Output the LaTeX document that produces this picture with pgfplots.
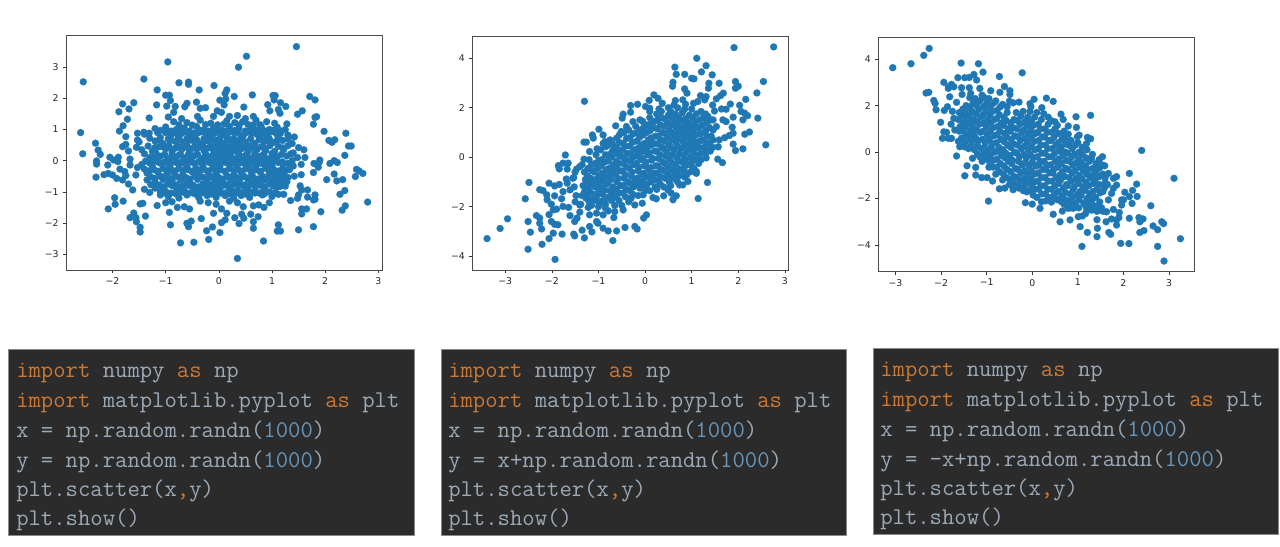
\documentclass[border=0pt]{standalone}
\usepackage{fontspec}
\setmainfont{DejaVu Sans}
\usepackage{pgfplots}
\pgfplotsset{compat=1.18}
\definecolor{mplblue}{HTML}{1F77B4}
\definecolor{codebg}{HTML}{2B2B2B}
\definecolor{codeedge}{HTML}{8A8A8A}
\definecolor{codetxt}{HTML}{9CA9B7}
\definecolor{codekw}{HTML}{CC7832}
\definecolor{codenum}{HTML}{6897BB}
\newcommand{\kw}[1]{\textcolor{codekw}{#1}}
\newcommand{\nm}[1]{\textcolor{codenum}{#1}}
\newcommand{\codefont}{\fontsize{18}{20}\selectfont\ttfamily\color{codetxt}}
\newcommand{\codeline}[3]{\node[anchor=base west,inner sep=0pt] at (#1pt,#2pt) {\codefont #3};}
\pgfplotsset{
  scat/.style={
    scale only axis, width=237.2pt,
    axis line style={draw=black!70,line width=0.55pt},
    tick style={draw=black!80,line width=0.45pt},
    tick align=outside, major tick length=2.4pt,
    xtick pos=bottom, ytick pos=left,
    tick label style={font=\fontsize{7}{8}\selectfont,text=black!85},
    xticklabel style={yshift=0.4pt}, yticklabel style={xshift=0.4pt},
    clip=false
  },
  dots/.style={only marks, mark=*, mark size=2.65pt, mark options={draw=mplblue,fill=mplblue,line width=0.1pt}}
}
\begin{document}
\begin{tikzpicture}
\path[use as bounding box] (0pt,0pt) rectangle (960pt,409.5pt);
% ---------- chart 1
\begin{axis}[scat, at={(49.5pt,207pt)}, anchor=south west, height=175.7pt,
  xmin=-2.875, xmax=3.075, ymin=-3.51, ymax=4.01,
  xtick={-2,-1,0,1,2,3}, xticklabels={−2,−1,0,1,2,3},
  ytick={-3,-2,-1,0,1,2,3}, yticklabels={−3,−2,−1,0,1,2,3}]
\addplot[dots] coordinates {
(1.46,3.66)(.52,3.35)(.37,3.0)(-.96,3.17)(-2.55,2.53)(-1.41,2.62)(-.75,2.5)(-.57,2.52)(-.57,2.45)(-.09,2.41)(-1.16,2.27)(-.37,2.27)(.15,2.27)(.12,2.16)(.29,2.06)(.63,2.11)(1.02,2.09)(1.06,2.09)(1.04,1.95)(1.71,2.06)(1.81,1.95)(-1.0,2.1)(-.93,2.1)(-.91,1.93)(.02,1.94)(.13,1.98)(-1.81,1.82)(-1.6,1.86)(-1.69,1.66)(-1.88,1.57)(-1.17,1.79)(-.98,1.75)(-.82,1.74)(-.42,1.88)(-.6,1.84)(-.64,1.73)(-.35,1.68)(-.25,1.7)(.1,1.79)(.47,1.72)(.92,1.8)(1.16,1.86)(1.26,1.74)(.96,1.6)(1.12,1.64)(1.15,1.52)(1.57,1.6)(1.48,1.49)(1.81,1.39)(1.84,1.41)(1.78,1.17)(1.98,.94)(2.39,.88)(2.07,.65)(2.13,.59)(2.18,.67)(2.44,.47)(2.49,.47)(2.37,.17)(1.9,.02)(1.89,-.05)(2.09,-.09)(2.17,0)(2.23,-.06)(1.87,-.21)(1.79,-.09)(1.78,-.38)(2.03,-.61)(2.17,-.43)(2.22,-.65)(2.33,-.61)(2.59,-.28)(2.57,-.51)(2.64,-.33)(2.71,-.41)(2.8,-1.33)(2.37,-.96)(2.28,-1.08)(2.38,-1.45)(2.32,-1.59)(1.92,-1.64)(1.81,-1.1)(1.81,-1.24)(1.78,-1.26)(1.78,-2.12)(1.5,-2.22)(1.56,-1.71)(1.56,-1.55)(1.65,-1.55)(1.48,-1.21)(1.5,-1.1)(1.53,-.81)(1.56,-.94)(1.67,-.94)(1.67,-1.17)(1.12,-2.06)(1.1,-2.26)(1.16,-2.26)(.84,-2.58)(.65,-2.17)(.65,-1.96)(.74,-1.8)(.6,-1.72)(.46,-1.48)(.43,-1.72)(.47,-1.85)(.38,-2.02)(.3,-1.83)(.35,-3.14)(.02,-2.31)(-.19,-2.53)(-.23,-2.25)(-.12,-2.13)(-.47,-2.62)(-.72,-2.64)(-.57,-2.12)(-.6,-2.01)(-.52,-1.94)(-.91,-2.06)(-.93,-1.66)(-.33,-1.86)(-.1,-1.69)(.05,-1.99)(.12,-1.9)(.15,-1.69)(-1.48,-2.29)(-1.48,-2.14)(-1.55,-1.96)(-1.56,-1.83)(-1.67,-1.83)(-1.6,-1.68)(-1.38,-1.78)(-2.08,-1.55)(-1.95,-1.4)(-1.96,-1.19)(-1.8,-1.3)(-1.48,-1.39)(-1.43,-1.37)(-1.16,-1.44)(-2.31,-.53)(-2.16,-.45)(-2.08,-.41)(-2.0,-.46)(-1.92,-.57)(-1.81,-.62)(-1.7,-.75)(-1.62,-.94)(-2.6,.9)(-2.56,.22)(-2.32,.56)(-2.27,.34)(-2.23,.2)(-2.3,-.01)(-2.3,-.11)(-2.09,-.14)(-2.05,.11)(-1.98,.02)(-1.89,.11)(-1.9,-.03)(-1.86,-.27)(-1.87,.95)(-1.8,1.12)(-1.72,1.33)(-1.75,.77)(-1.81,.45)(-1.75,.52)(-1.7,.31)(-1.67,.05)(-1.67,-.14)(-1.77,-.35)(-1.75,-.48)(-1.56,-.46)(-1.53,-.22)(-1.55,.43)(-1.53,.66)(-1.53,.88)(-1.31,1.37)(-1.41,.91)(-1.31,.88)
(-.85,1.55)(-.95,1.4)(-.7,1.35)(-.4,1.42)(-.1,1.42)(-.03,1.6)(.05,1.55)(.2,1.42)(.35,1.45)(.5,1.35)(.65,1.42)(.7,1.3)
(-.85,1.25)(-.6,1.22)(-.35,1.3)(-.15,1.2)(.15,1.28)(.3,1.22)(.45,1.25)(.65,1.15)(.9,1.25)(1.05,1.2)(1.28,1.18)
(-1.2,1.03)(-1.0,1.08)(-.8,1.0)(-.65,1.05)(-.42,1.1)(-.28,1.0)(-.1,1.05)(.05,.98)(.2,1.1)(.38,1.04)(.6,1.02)(.8,1.08)(.95,1.0)(1.1,1.07)(1.25,1.0)
(-1.4,.85)(-1.15,.9)(-.9,.8)(-.7,.87)(-.55,.82)(-.38,.9)(-.22,.78)(-.08,.88)(.12,.82)(.28,.9)(.46,.8)(.62,.88)(.72,.84)(.9,.8)(1.08,.87)(1.3,.82)(1.42,.76)
(-1.5,.6)(-1.2,.63)(-1.05,.55)(-.82,.62)(-.66,.58)(-.5,.65)(-.35,.55)(-.2,.63)(-.05,.6)(.08,.55)(.22,.65)(.35,.58)(.5,.6)(.68,.55)(.85,.62)(1.02,.58)(1.2,.65)(1.38,.55)(1.5,.42)
(-1.45,.35)(-1.25,.3)(-1.0,.38)(-.88,.32)(-.7,.36)(-.55,.3)(-.42,.38)(-.28,.33)(-.12,.38)(0,.3)(.15,.35)(.28,.32)(.42,.38)(.55,.3)(.72,.36)(.88,.32)(1.05,.3)(1.22,.36)(1.4,.25)(1.6,.35)
(-1.3,.1)(-1.1,.14)(-.95,.06)(-.8,.12)(-.65,.08)(-.48,.14)(-.32,.06)(-.18,.12)(-.02,.08)(.12,.14)(.3,.06)(.45,.12)(.6,.08)(.76,.13)(.92,.06)(1.1,.12)(1.28,.15)(1.48,.1)(1.62,.1)
(-1.45,-.12)(-1.25,-.18)(-1.08,-.1)(-.92,-.16)(-.75,-.12)(-.6,-.18)(-.45,-.1)(-.3,-.17)(-.12,-.12)(.02,-.18)(.18,-.1)(.35,-.16)(.5,-.12)(.7,-.18)(.82,-.1)(1.0,-.16)(1.2,-.1)(1.4,-.17)(1.55,-.12)
(-1.35,-.4)(-1.15,-.36)(-.98,-.42)(-.85,-.38)(-.68,-.44)(-.5,-.36)(-.38,-.42)(-.2,-.38)(-.05,-.42)(.12,-.36)(.28,-.44)(.42,-.38)(.62,-.42)(.78,-.36)(.95,-.42)(1.08,-.38)(1.22,-.42)(1.42,-.5)(1.55,-.45)
(-1.35,-.62)(-1.2,-.68)(-1.05,-.6)(-.88,-.66)(-.72,-.62)(-.55,-.68)(-.4,-.6)(-.22,-.66)(-.08,-.62)(.08,-.68)(.22,-.62)(.38,-.66)(.55,-.6)(.7,-.68)(.85,-.62)(1.0,-.66)(1.13,-.62)(1.28,-.68)
(-1.4,-.92)(-1.2,-.88)(-1.0,-.98)(-.8,-.9)(-.65,-.95)(-.48,-.88)(-.3,-.94)(-.15,-.88)(.02,-.95)(.2,-.9)(.35,-.96)(.5,-.9)(.68,-.95)(.85,-.9)(1.1,-.85)(1.25,-.82)
(-1.1,-1.1)(-.95,-1.15)(-.75,-1.2)(-.6,-1.1)(-.38,-1.18)(-.22,-1.12)(-.05,-1.18)(.12,-1.12)(.28,-1.2)(.42,-1.12)(.58,-1.18)(.82,-1.1)(1.0,-1.15)(1.12,-1.08)(1.22,-1.08)
(-1.0,-1.35)(-.88,-1.32)(-.78,-1.5)(-.65,-1.48)(-.55,-1.55)(-.35,-1.3)(-.2,-1.35)(-.05,-1.4)(.05,-1.55)(.2,-1.3)(.35,-1.35)(.65,-1.45)(.75,-1.42)(.85,-1.5)(.95,-1.35)(1.35,-1.28)
(-1.1,.97)(-.9,.95)(-.72,.98)(-.55,.95)(-.35,.97)(-.2,.95)(-.02,.98)(.13,.95)(.3,.97)(.5,.95)(.7,.98)(.88,.95)(1.02,.97)(1.18,.95)
(-1.3,.72)(-1.1,.74)(-.95,.7)(-.76,.73)(-.6,.7)(-.45,.74)(-.28,.7)(-.12,.73)(.02,.72)(.16,.74)(.28,.7)(.42,.73)(.6,.7)(.78,.74)(.95,.7)(1.12,.73)(1.3,.7)
(-1.33,.47)(-1.12,.45)(-.94,.48)(-.76,.46)(-.6,.49)(-.45,.46)(-.3,.48)(-.14,.45)(-.02,.48)(.12,.45)(.28,.48)(.42,.46)(.6,.48)(.8,.45)(.96,.48)(1.12,.46)(1.3,.48)
(-1.4,.22)(-1.18,.24)(-1.02,.2)(-.88,.23)(-.72,.2)(-.56,.24)(-.4,.2)(-.25,.23)(-.1,.21)(.05,.24)(.22,.2)(.37,.23)(.52,.2)(.68,.24)(.84,.2)(1.0,.23)(1.18,.2)(1.36,.22)
(-1.38,-.02)(-1.2,0)(-1.02,-.04)(-.86,-.01)(-.7,-.04)(-.54,0)(-.38,-.03)(-.25,-.01)(-.1,-.04)(.05,0)(.2,-.03)(.38,-.01)(.52,-.04)(.68,0)(.85,-.03)(1.02,-.01)(1.2,-.04)(1.38,0)
(-1.4,-.27)(-1.22,-.29)(-1.05,-.25)(-.9,-.28)(-.75,-.25)(-.58,-.29)(-.43,-.25)(-.28,-.28)(-.12,-.26)(.03,-.29)(.2,-.25)(.35,-.28)(.52,-.26)(.7,-.29)(.88,-.25)(1.03,-.28)(1.2,-.26)(1.33,-.29)
(-1.28,-.52)(-1.1,-.5)(-.95,-.54)(-.8,-.51)(-.62,-.54)(-.45,-.5)(-.3,-.53)(-.15,-.51)(0,-.54)(.16,-.5)(.32,-.53)(.48,-.51)(.65,-.54)(.82,-.5)(1.0,-.53)(1.15,-.51)(1.3,-.54)
(-1.28,-.77)(-1.12,-.79)(-.96,-.75)(-.8,-.78)(-.62,-.75)(-.48,-.79)(-.3,-.75)(-.15,-.78)(0,-.76)(.16,-.79)(.3,-.75)(.48,-.78)(.62,-.76)(.78,-.79)(.95,-.75)(1.08,-.78)(1.22,-.76)
(-1.3,-1.02)(-1.1,-1.0)(-.9,-1.04)(-.72,-1.01)(-.55,-1.04)(-.38,-1.0)(-.22,-1.03)(-.05,-1.01)(.12,-1.04)(.28,-1.0)(.42,-1.03)(.6,-1.01)(.76,-1.04)(.95,-1.0)(1.05,-1.03)
(-.75,1.15)(-.5,1.14)(-.25,1.16)(-.02,1.15)(.1,1.18)(.38,1.14)(.55,1.16)(.78,1.15)
(-1.0,.9)(-.8,.88)(-.62,.92)(-.46,.89)(-.3,.92)(-.14,.88)(.02,.9)(.2,.92)(.37,.88)(.54,.91)(.8,.89)(.98,.92)(1.16,.88)
(-1.12,.66)(-.92,.64)(-.74,.68)(-.58,.65)(-.42,.68)(-.27,.64)(-.12,.66)(0,.68)(.15,.64)(.3,.67)(.44,.65)(.76,.68)(.92,.64)(1.1,.66)
(-1.2,.42)(-1.05,.44)(-.82,.4)(-.64,.43)(-.5,.4)(-.36,.44)(-.2,.41)(-.07,.43)(.08,.4)(.2,.44)(.34,.41)(.5,.43)(.66,.4)(.84,.43)(1.2,.41)
(-1.2,.17)(-.88,.15)(-.74,.19)(-.58,.16)(-.42,.19)(-.26,.15)(-.1,.17)(.05,.19)(.2,.15)(.38,.18)(.52,.16)(.68,.19)(.84,.15)(1.02,.17)
(-1.3,-.07)(-1.14,-.05)(-.95,-.09)(-.8,-.06)(-.64,-.09)(-.5,-.05)(-.32,-.08)(-.18,-.06)(-.04,-.09)(.11,-.05)(.27,-.08)(.44,-.06)(.6,-.09)(.76,-.05)(.92,-.08)(1.12,-.06)(1.3,-.09)
(-1.3,-.32)(-1.14,-.34)(-.98,-.3)(-.82,-.33)(-.66,-.3)(-.5,-.34)(-.35,-.31)(-.2,-.33)(-.05,-.3)(.12,-.34)(.28,-.31)(.44,-.33)(.6,-.3)(.78,-.34)(.95,-.31)(1.12,-.33)(1.28,-.3)
(-1.2,-.57)(-1.02,-.55)(-.88,-.59)(-.7,-.56)(-.54,-.59)(-.38,-.55)(-.22,-.58)(-.08,-.56)(.08,-.59)(.24,-.55)(.4,-.58)(.56,-.56)(.74,-.59)(.9,-.55)(1.08,-.58)(1.22,-.56)
(-1.2,-.82)(-1.04,-.84)(-.88,-.8)(-.7,-.83)(-.55,-.8)(-.38,-.84)(-.22,-.81)(-.08,-.83)(.08,-.8)(.22,-.84)(.38,-.81)(.55,-.83)(.7,-.8)(.86,-.84)(1.02,-.81)(1.15,-.83)
(-1.0,-1.05)(-.8,-1.07)(-.64,-1.03)(-.46,-1.06)(-.3,-1.03)(-.14,-1.07)(.04,-1.04)(.2,-1.06)(.34,-1.03)(.5,-1.07)(.68,-1.04)(.86,-1.06)
};
\end{axis}
% ---------- chart 2
\begin{axis}[scat, at={(354.2pt,206.8pt)}, anchor=south west, height=175.5pt,
  xmin=-3.707, xmax=3.079, ymin=-4.57, ymax=4.89,
  xtick={-3,-2,-1,0,1,2,3}, xticklabels={−3,−2,−1,0,1,2,3},
  ytick={-4,-2,0,2,4}, yticklabels={−4,−2,0,2,4}]
\addplot[dots] coordinates {
(2.76,4.46)(1.91,4.43)(1.11,4.0)(.64,3.64)(1.31,3.7)(.67,3.35)(.85,3.35)(1.21,3.45)(1.44,3.33)(1.0,3.19)(1.05,3.17)(1.59,2.99)(1.94,3.06)(2.54,3.06)(1.37,2.99)(.6,3.03)(.59,2.87)(2.0,2.87)(1.94,2.79)(1.36,2.79)(.85,2.76)(.9,2.59)(2.4,2.6)(1.68,2.59)(1.62,2.49)(1.53,2.36)(2.16,2.34)(1.19,2.49)(1.31,2.45)(1.28,2.32)(-1.3,2.26)(.19,2.52)(.09,2.3)(.28,2.38)(.37,2.18)(.65,2.29)(.62,2.11)(.81,2.32)(.87,2.14)(1.04,2.18)(1.13,2.25)(1.45,2.11)(-.31,2.09)(-.16,2.14)(.01,2.05)(.1,1.85)(.1,1.98)(2.03,2.1)(1.83,2.15)(1.64,1.95)(1.49,1.87)(1.74,1.94)(2.06,1.85)(2.14,1.78)(2.2,1.68)(2.42,1.58)(2.1,1.51)(1.89,1.62)(1.67,1.51)(1.74,1.44)(1.87,1.21)(1.46,1.51)(1.53,1.24)(1.46,1.1)(2.24,1.02)(2.14,.93)(1.89,.97)(1.81,.88)(1.71,.79)(1.59,.7)(1.46,.7)(1.89,.53)(2.59,.5)(2.1,.34)(1.94,.27)(1.57,.42)(1.31,-.03)(1.56,-.08)(1.66,-.22)(1.34,-1.02)(1.14,-1.67)
(-.47,1.74)(-.49,1.58)(-.31,1.82)(-.63,1.27)(-.99,1.13)(-1.13,.9)(-1.11,.77)(-.9,.9)(-1.31,.61)(-1.26,.61)(-.86,.63)(-1.71,.09)(-1.19,.23)(-1.03,.34)(-.84,.43)(-.61,.77)(-.51,1.04)(-.4,1.24)(-.26,1.44)(-.11,1.51)(-1.86,-.34)(-1.84,-.47)(-1.76,-.24)(-1.65,-.24)(-1.67,-.48)(-1.47,-.48)(-1.31,-.08)(-1.4,-.38)
(-2.49,-1.02)(-2.06,-1.05)(-1.94,-1.16)(-1.84,-1.1)(-1.69,-.88)(-1.67,-1.05)(-1.53,-.82)(-2.26,-1.31)(-2.19,-1.35)(-2.11,-1.52)(-1.94,-1.56)(-2.1,-1.72)(-2.01,-1.9)(-2.57,-1.68)(-1.76,-1.39)(-1.61,-1.32)(-1.79,-1.68)(-1.76,-1.99)(-1.64,-2.03)(-1.97,-2.13)(-1.9,-2.1)(-2.06,-2.32)(-1.61,-2.36)(-2.33,-2.36)(-2.26,-2.46)(-2.26,-2.67)(-2.22,-2.9)(-2.51,-2.6)(-2.95,-2.49)(-3.11,-2.88)(-3.39,-3.29)(-2.46,-3.03)(-2.51,-3.72)(-2.21,-3.52)(-2.06,-3.29)(-1.97,-3.07)(-1.78,-3.11)(-1.93,-4.13)(-1.53,-3.11)(-1.51,-3.18)(-1.35,-2.95)(-1.3,-3.26)(-2.01,-2.6)(-1.94,-2.71)(-1.87,-2.73)(-1.51,-2.6)(-1.46,-2.46)(-1.4,-2.22)(-1.19,-2.8)(-1.14,-3.02)(-1.04,-2.6)(-1.01,-2.67)(-.9,-2.87)(-.79,-2.98)(-.61,-2.98)(-.69,-3.37)(-.43,-2.84)(-.22,-2.8)(-.17,-2.9)(-.67,-2.44)(-.03,-2.46)(.03,-2.33)(-.9,-2.33)(-.79,-2.17)(-.65,-2.2)(-.47,-2.13)(-.22,-1.93)(-.06,-1.86)(-1.22,-2.03)(-1.19,-2.33)(-1.04,-2.26)(-1.4,-1.93)
(.6,-1.72)(.67,-1.56)(.4,-1.56)(.24,-1.68)(.17,-1.63)(-.04,-1.52)(.49,-1.32)(.56,-1.45)(.74,-1.12)(.81,-1.12)(.92,-.98)(1.1,-.65)(1.1,-.58)(.99,-.58)(.85,-.58)(1.06,-.11)
(-1.55,-.85)(-1.52,-1.2)(-1.48,-1.55)(-1.5,-1.8)(-1.35,-1.55)(-1.38,-1.9)
(-1.3,-.6)(-1.28,-.9)(-1.33,-1.15)(-1.3,-1.4)(-1.27,-1.65)
(-1.15,-.3)(-1.13,-.55)(-1.17,-.85)(-1.14,-1.1)(-1.18,-1.4)(-1.12,-1.7)(-1.15,-1.95)
(-1.0,-.15)(-1.02,-.45)(-.98,-.75)(-1.01,-1.0)(-.99,-1.3)(-1.03,-1.55)(-.97,-1.85)
(-.85,.1)(-.87,-.2)(-.83,-.5)(-.86,-.8)(-.84,-1.1)(-.88,-1.35)(-.82,-1.65)(-.85,-1.9)
(-.7,.25)(-.72,0)(-.68,-.3)(-.71,-.6)(-.73,-.9)(-.69,-1.2)(-.7,-1.5)(-.72,-1.75)
(-.55,.6)(-.57,.3)(-.53,.05)(-.56,-.25)(-.54,-.55)(-.58,-.85)(-.52,-1.15)(-.55,-1.45)(-.56,-1.75)
(-.4,.75)(-.42,.45)(-.38,.15)(-.41,-.1)(-.39,-.4)(-.43,-.7)(-.37,-1.0)(-.4,-1.3)(-.42,-1.6)
(-.25,.95)(-.27,.6)(-.23,.3)(-.26,0)(-.24,-.3)(-.28,-.6)(-.22,-.9)(-.25,-1.2)(-.26,-1.5)
(-.1,1.1)(-.12,.8)(-.08,.5)(-.11,.2)(-.09,-.1)(-.13,-.4)(-.07,-.7)(-.1,-1.0)(-.11,-1.25)
(.05,1.3)(.03,1.0)(.07,.7)(.04,.4)(.06,.1)(.02,-.2)(.08,-.5)(.05,-.8)(.04,-1.1)
(.2,1.45)(.18,1.2)(.22,.85)(.19,.55)(.21,.25)(.17,-.05)(.23,-.35)(.2,-.65)(.19,-.9)(.22,-1.2)
(.35,1.6)(.33,1.3)(.37,1.0)(.34,.7)(.36,.4)(.32,.1)(.38,-.2)(.35,-.5)(.34,-.8)(.33,-1.1)
(.5,1.7)(.48,1.4)(.52,1.1)(.49,.8)(.51,.5)(.47,.2)(.53,-.1)(.5,-.4)(.49,-.7)(.52,-1.0)
(.65,1.75)(.63,1.45)(.67,1.2)(.64,.9)(.66,.6)(.62,.3)(.68,0)(.65,-.3)(.64,-.6)(.66,-.9)
(.8,1.8)(.78,1.5)(.82,1.2)(.79,.95)(.81,.65)(.77,.35)(.83,.05)(.8,-.2)(.79,-.5)
(.95,1.7)(.93,1.4)(.97,1.15)(.94,.85)(.96,.6)(.92,.3)(.98,0)(.95,-.3)
(1.1,1.75)(1.08,1.45)(1.12,1.2)(1.09,.9)(1.11,.6)(1.07,.35)(1.13,.05)
(1.25,1.6)(1.23,1.3)(1.27,1.0)(1.24,.7)(1.26,.4)
(1.4,1.5)(1.38,1.2)(1.42,.85)(1.39,.6)
(-1.22,-.45)(-1.23,-.75)(-1.21,-1.0)(-1.22,-1.25)(-1.24,-1.55)(-1.2,-1.8)
(-1.07,-.25)(-1.08,-.6)(-1.06,-.9)(-1.07,-1.2)(-1.09,-1.5)(-1.05,-1.75)
(-.93,-.1)(-.94,-.35)(-.92,-.65)(-.93,-.95)(-.95,-1.22)(-.91,-1.5)(-.93,-1.78)
(-.78,.1)(-.79,-.15)(-.77,-.45)(-.78,-.75)(-.8,-1.05)(-.76,-1.35)(-.78,-1.62)
(-.62,.4)(-.63,.15)(-.61,-.15)(-.62,-.42)(-.64,-.7)(-.6,-1.0)(-.62,-1.3)(-.63,-1.6)
(-.47,.55)(-.48,.3)(-.46,0)(-.47,-.25)(-.49,-.55)(-.45,-.85)(-.47,-1.15)(-.48,-1.45)
(-.32,.8)(-.33,.45)(-.31,.15)(-.32,-.15)(-.34,-.45)(-.3,-.75)(-.32,-1.05)(-.33,-1.35)
(-.17,1.0)(-.18,.65)(-.16,.35)(-.17,.05)(-.19,-.25)(-.15,-.55)(-.17,-.85)(-.18,-1.1)
(-.03,1.2)(-.04,.9)(-.02,.55)(-.03,.25)(-.05,-.05)(-.01,-.35)(-.03,-.65)(-.04,-.95)(-.02,-1.2)
(.12,1.35)(.11,1.08)(.13,.78)(.12,.48)(.1,.18)(.14,-.12)(.12,-.42)(.11,-.75)(.13,-1.0)
(.27,1.5)(.26,1.15)(.28,.85)(.27,.55)(.25,.25)(.29,-.05)(.27,-.35)(.26,-.65)(.28,-.95)
(.42,1.55)(.41,1.25)(.43,.95)(.42,.65)(.4,.35)(.44,.05)(.42,-.25)(.41,-.55)(.43,-.85)
(.57,1.6)(.56,1.3)(.58,1.0)(.57,.7)(.55,.4)(.59,.1)(.57,-.2)(.56,-.5)(.58,-.8)
(.72,1.6)(.71,1.3)(.73,1.05)(.72,.75)(.7,.45)(.74,.15)(.72,-.15)(.71,-.45)(.73,-.75)
(.87,1.55)(.86,1.3)(.88,1.05)(.87,.8)(.85,.5)(.89,.2)(.87,-.1)(.86,-.35)
(1.02,1.6)(1.01,1.3)(1.03,1.02)(1.02,.75)(1.0,.45)(1.04,.2)(1.02,-.1)
(1.17,1.5)(1.16,1.2)(1.18,.95)(1.17,.65)(1.15,.4)(1.19,.15)
(1.32,1.4)(1.31,1.1)(1.33,.85)(1.32,.55)(1.3,.3)
(-.7,.55)(-.75,.7)(-.55,.9)(-.45,1.0)(-.35,1.1)(-.2,1.25)(-.05,1.45)(.1,1.6)(.25,1.75)(.35,1.85)(.5,2.0)(.55,1.85)(.3,1.95)(.7,2.0)(.85,1.95)(1.0,1.95)(1.2,1.85)(1.3,1.75)(1.35,1.65)(-.95,.3)(-1.05,.1)(-1.2,-.1)(-1.35,-.3)(-1.5,-.6)(-.9,.55)(-.78,.5)(-.65,.4)
(-1.0,-2.0)(-.85,-2.05)(-.65,-1.95)(-.5,-1.95)(-.35,-1.8)(-.3,-1.65)(-.15,-1.55)(0,-1.35)(.1,-1.35)(.25,-1.3)(.4,-1.2)(.55,-1.15)(.7,-1.0)(.85,-.8)(1.0,-.35)(1.15,-.25)(1.2,-.1)(1.3,.15)(1.35,.3)(1.45,.4)(1.4,.25)(1.05,-.45)(.9,-.7)(.68,-.7)
};
\end{axis}
% ---------- chart 3
\begin{axis}[scat, at={(658.7pt,205.7pt)}, anchor=south west, height=175.5pt,
  xmin=-3.377, xmax=3.56, ymin=-5.15, ymax=4.92,
  xtick={-3,-2,-1,0,1,2,3}, xticklabels={−3,−2,−1,0,1,2,3},
  ytick={-4,-2,0,2,4}, yticklabels={−4,−2,0,2,4}]
\addplot[dots] coordinates {
(-3.06,3.63)(-2.66,3.8)(-2.38,4.16)(-2.26,4.46)(-1.56,3.83)(-1.18,3.8)(-.22,3.41)(-1.08,3.44)(-.72,3.25)(-1.28,3.34)(-1.38,3.21)(-1.48,3.2)(-1.63,3.2)(-1.22,3.1)(-1.94,3.0)(-1.77,2.91)(-1.84,2.81)(-1.72,2.81)(-1.38,2.77)(-1.55,2.77)(-1.15,2.74)(-.61,2.82)(-.49,2.64)(-.91,2.64)(-.71,2.57)(-2.33,2.54)(-2.27,2.57)(-1.84,2.74)(-1.54,2.48)(-1.35,2.52)(-.49,2.48)(-1.81,2.38)(.31,2.32)(.46,2.18)(.04,2.27)(-1.06,2.35)(-1.37,2.34)(-2.16,2.22)(-2.13,2.09)(-1.66,2.14)(-.5,2.19)(-.42,2.12)(-.29,2.15)(-.05,2.08)(-.03,1.95)(.21,1.91)(-1.86,1.95)(-2.11,1.82)(-1.93,1.79)
(.63,1.63)(.96,1.52)(1.28,1.58)(.68,1.4)(.79,1.12)(.97,1.06)(.69,.77)(.79,.77)(1.03,.73)(.99,.66)(1.21,.63)(1.28,.57)(1.19,.36)(-2.01,1.28)(-1.94,.87)(-1.97,.59)(-1.84,.59)(-1.77,.59)(-1.88,.85)(-1.62,.46)(-1.59,.23)(-1.66,-.17)(-1.49,.23)(-1.31,-.27)(-1.43,-.59)(-1.24,-.66)(-1.48,-1.02)(-1.24,-.99)(-1.11,-1.1)(-.99,-1.1)(-.93,-.63)(-.87,-1.25)(-.96,-2.11)(-.72,-1.58)(-.6,-1.55)(-.42,-1.62)(-.2,-1.66)(-.15,-2.18)(0,-2.24)(-.12,-1.71)(.02,-1.85)(.17,-2.42)(.2,-2.14)(.46,-2.68)(.61,-3.0)(.83,-2.92)(.66,-2.54)(.79,-2.42)(.64,-2.14)(.9,-2.42)(1.01,-2.78)(1.1,-2.75)(1.17,-2.65)(1.05,-3.21)(1.09,-4.06)(1.21,-3.46)(1.42,-2.91)(1.43,-3.28)(1.42,-3.64)(1.68,-3.46)(1.72,-3.54)(1.94,-3.93)(2.12,-3.94)(2.13,-2.85)(1.62,-3.0)(1.74,-2.88)(1.85,-2.92)(1.85,-3.14)(1.9,-2.82)(1.91,-2.6)(1.78,-2.47)(1.63,-2.57)(2.4,.07)(3.11,-1.13)(2.13,-.92)(2.29,-1.38)(2.2,-1.65)(2.03,-1.73)(2.13,-1.92)(2.3,-1.91)(1.96,-2.06)(2.0,-2.06)(1.96,-2.28)(2.19,-2.21)(2.6,-2.31)(2.34,-2.82)(2.43,-2.88)(2.36,-3.0)(2.36,-3.46)(2.45,-3.38)(2.65,-3.18)(2.75,-3.34)(2.84,-3.0)(2.88,-3.08)(2.75,-4.06)(3.25,-3.73)(2.89,-4.69)(1.85,-1.06)(1.78,-1.13)(1.67,-.92)(1.85,-1.42)(1.78,-1.56)(1.74,-1.78)(1.67,-2.06)(1.54,-.2)(1.47,-.32)(1.54,-.56)(1.59,-.59)(1.48,-.67)(1.32,-.1)
(-1.75,1.75)(-1.72,1.45)(-1.78,1.2)(-1.6,1.7)(-1.62,1.4)(-1.58,1.1)
(-1.45,2.0)(-1.47,1.7)(-1.43,1.4)(-1.46,1.1)(-1.44,.7)(-1.48,.4)
(-1.3,2.1)(-1.32,1.75)(-1.28,1.4)(-1.31,1.1)(-1.29,.75)(-1.33,.45)(-1.27,.1)
(-1.15,2.2)(-1.17,1.85)(-1.13,1.5)(-1.16,1.2)(-1.14,.85)(-1.18,.5)(-1.12,.15)(-1.15,-.2)
(-1.0,2.1)(-1.02,1.75)(-.98,1.4)(-1.01,1.1)(-.99,.75)(-1.03,.4)(-.97,.05)(-1.0,-.3)
(-.85,2.1)(-.87,1.75)(-.83,1.4)(-.86,1.05)(-.84,.7)(-.88,.35)(-.82,0)(-.85,-.35)(-.86,-.65)
(-.7,1.95)(-.72,1.6)(-.68,1.25)(-.71,.9)(-.69,.55)(-.73,.2)(-.67,-.15)(-.7,-.5)(-.71,-.85)
(-.55,1.7)(-.57,1.35)(-.53,1)(-.56,.65)(-.54,.3)(-.58,-.05)(-.52,-.4)(-.55,-.75)(-.56,-1.1)
(-.4,1.4)(-.42,1.05)(-.38,.7)(-.41,.35)(-.39,0)(-.43,-.35)(-.37,-.7)(-.4,-1.05)(-.41,-1.35)
(-.25,1.55)(-.27,1.2)(-.23,.85)(-.26,.5)(-.24,.15)(-.28,-.2)(-.22,-.55)(-.25,-.9)(-.26,-1.25)
(-.1,1.5)(-.12,1.15)(-.08,.8)(-.11,.45)(-.09,.1)(-.13,-.25)(-.07,-.6)(-.1,-.95)(-.11,-1.3)
(.05,1.5)(.03,1.15)(.07,.8)(.04,.45)(.06,.1)(.02,-.25)(.08,-.6)(.05,-.95)(.04,-1.3)(.06,-1.6)
(.2,1.4)(.18,1)(.22,.65)(.19,.3)(.21,-.05)(.17,-.4)(.23,-.75)(.2,-1.1)(.19,-1.45)(.21,-1.8)
(.35,1.2)(.33,.85)(.37,.5)(.34,.15)(.36,-.2)(.32,-.55)(.38,-.9)(.35,-1.25)(.34,-1.6)(.36,-1.95)
(.5,1.0)(.48,.65)(.52,.3)(.49,-.05)(.51,-.4)(.47,-.75)(.53,-1.1)(.5,-1.45)(.49,-1.8)
(.65,.55)(.63,.2)(.67,-.15)(.64,-.5)(.66,-.85)(.62,-1.2)(.68,-1.55)(.65,-1.9)
(.8,.3)(.78,-.05)(.82,-.4)(.79,-.75)(.81,-1.1)(.77,-1.45)(.83,-1.8)(.8,-2.1)
(.95,.3)(.93,-.1)(.97,-.45)(.94,-.8)(.96,-1.15)(.92,-1.5)(.98,-1.85)(.95,-2.2)
(1.1,-.1)(1.08,-.45)(1.12,-.8)(1.09,-1.15)(1.11,-1.5)(1.07,-1.85)(1.13,-2.2)
(1.25,-.4)(1.23,-.75)(1.27,-1.1)(1.24,-1.45)(1.26,-1.8)(1.22,-2.15)(1.28,-2.4)
(1.4,-.9)(1.38,-1.2)(1.42,-1.6)(1.39,-1.95)(1.41,-2.35)(1.55,-1.7)(1.52,-2.4)(1.6,-1.3)
(-1.52,1.85)(-1.53,1.55)(-1.51,1.25)(-1.52,.9)
(-1.37,1.9)(-1.38,1.55)(-1.36,1.25)(-1.37,.9)(-1.39,.6)(-1.35,.25)
(-1.22,2.0)(-1.23,1.65)(-1.21,1.3)(-1.22,.95)(-1.24,.6)(-1.2,.3)
(-1.07,1.95)(-1.08,1.6)(-1.06,1.25)(-1.07,.9)(-1.09,.55)(-1.05,.2)(-1.07,-.1)
(-.92,1.95)(-.93,1.6)(-.91,1.25)(-.92,.9)(-.94,.55)(-.9,.2)(-.92,-.15)(-.93,-.45)
(-.77,1.8)(-.78,1.45)(-.76,1.1)(-.77,.75)(-.79,.4)(-.75,.05)(-.77,-.3)(-.78,-.65)
(-.62,1.5)(-.63,1.15)(-.61,.8)(-.62,.45)(-.64,.1)(-.6,-.25)(-.62,-.6)(-.63,-.95)
(-.47,1.25)(-.48,.9)(-.46,.55)(-.47,.2)(-.49,-.15)(-.45,-.5)(-.47,-.85)(-.48,-1.2)
(-.32,1.35)(-.33,1.0)(-.31,.65)(-.32,.3)(-.34,-.05)(-.3,-.4)(-.32,-.75)(-.33,-1.1)(-.31,-1.4)
(-.17,1.3)(-.18,.95)(-.16,.6)(-.17,.25)(-.19,-.1)(-.15,-.45)(-.17,-.8)(-.18,-1.15)(-.16,-1.45)
(-.02,1.3)(-.03,.95)(-.01,.6)(-.02,.25)(-.04,-.1)(0,-.45)(-.02,-.8)(-.03,-1.15)(-.01,-1.45)
(.13,1.2)(.12,.85)(.14,.5)(.13,.15)(.11,-.2)(.15,-.55)(.13,-.9)(.12,-1.25)(.14,-1.6)
(.28,1.0)(.27,.65)(.29,.3)(.28,-.05)(.26,-.4)(.3,-.75)(.28,-1.1)(.27,-1.45)(.29,-1.8)
(.43,.85)(.42,.5)(.44,.15)(.43,-.2)(.41,-.55)(.45,-.9)(.43,-1.25)(.42,-1.6)(.44,-1.95)
(.58,.8)(.57,.4)(.59,.05)(.58,-.3)(.56,-.65)(.6,-1.0)(.58,-1.35)(.57,-1.7)
(.73,.35)(.72,0)(.74,-.35)(.73,-.7)(.71,-1.05)(.75,-1.4)(.73,-1.75)(.72,-2.05)
(.88,.15)(.87,-.2)(.89,-.55)(.88,-.9)(.86,-1.25)(.9,-1.6)(.88,-1.95)(.87,-2.25)
(1.03,0)(1.02,-.3)(1.04,-.65)(1.03,-1.0)(1.01,-1.35)(1.05,-1.7)(1.03,-2.05)(1.02,-2.4)
(1.18,-.25)(1.17,-.6)(1.19,-.95)(1.18,-1.3)(1.16,-1.65)(1.2,-2.0)(1.18,-2.35)
(1.33,-.7)(1.32,-1.0)(1.34,-1.35)(1.33,-1.7)(1.31,-2.05)(1.35,-2.3)
(1.48,-1.05)(1.47,-1.4)(1.49,-1.75)(1.48,-2.15)
(-.2,1.75)(-.05,1.75)(.1,1.7)(.25,1.65)(.35,1.5)(.42,1.35)(.5,1.3)(.55,1.15)(.7,.9)(.72,.6)(.85,.5)(1.0,.4)(1.1,.2)(1.2,.1)(1.3,-.3)(1.4,-.5)(1.45,-.7)(1.55,-.95)(1.6,-1.1)(1.65,-1.4)(1.58,-1.55)(-.35,1.7)(-.55,1.95)(-.65,2.05)(-.8,2.2)(-.95,2.3)(-1.1,2.45)(-1.25,2.3)
(-1.6,.9)(-1.7,.95)(-1.55,.6)(-1.4,.15)(-1.2,-.1)(-1.1,-.4)(-.95,-.65)(-.8,-.95)(-.65,-1.2)(-.5,-1.4)(-.3,-1.55)(-.2,-1.55)(-.05,-1.65)(.1,-1.95)(.3,-2.1)(.42,-2.15)(.55,-2.05)(.7,-2.25)(.85,-2.4)(1.2,-2.5)(1.3,-2.5)(1.42,-2.55)(1.55,-2.55)
};
\end{axis}
% ---------- code panels
\fill[codebg,draw=codeedge,line width=0.6pt] (6.3pt,8pt) rectangle (310.7pt,147.5pt);
\fill[codebg,draw=codeedge,line width=0.6pt] (331pt,8pt) rectangle (634.5pt,147.5pt);
\fill[codebg,draw=codeedge,line width=0.6pt] (655pt,9pt) rectangle (958.5pt,148.5pt);
\foreach \xx/\dy in {12/0, 336/0, 660/0.75}{
  \codeline{\xx}{126+\dy}{\kw{import} numpy \kw{as} np}
  \codeline{\xx}{103.9+\dy}{\kw{import} matplotlib.pyplot \kw{as} plt}
  \codeline{\xx}{81.6+\dy}{x = np.random.randn(\nm{1000})}
  \codeline{\xx}{36.8+\dy}{plt.scatter(x\kw{,}y)}
  \codeline{\xx}{15.1+\dy}{plt.show()}
}
\codeline{12}{59.2}{y = np.random.randn(\nm{1000})}
\codeline{336}{59.2}{y = x+np.random.randn(\nm{1000})}
\codeline{660}{59.95}{y = -x+np.random.randn(\nm{1000})}
\end{tikzpicture}
\end{document}
